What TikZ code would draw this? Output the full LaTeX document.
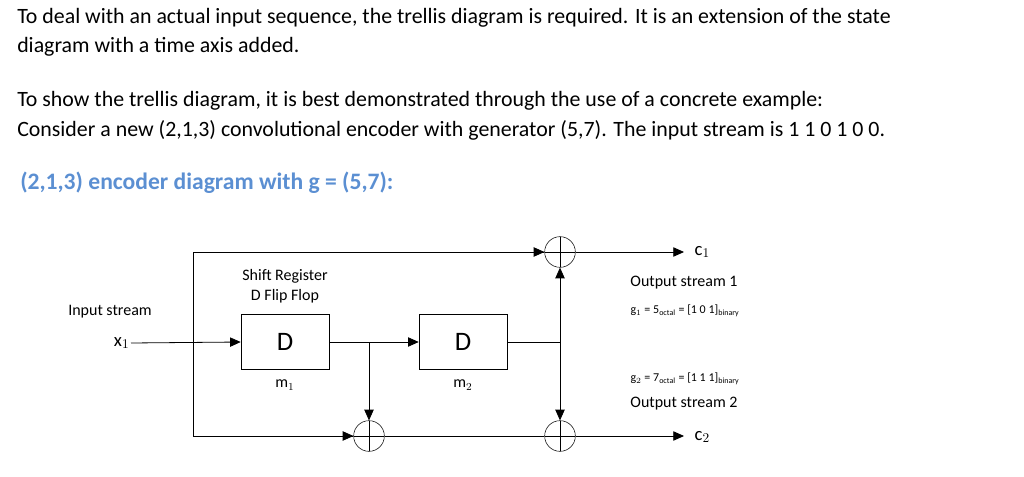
\documentclass[tikz,border=0pt]{standalone}
\usepackage{fontspec}
\setmainfont{Carlito}
\usetikzlibrary{arrows.meta}
\definecolor{hblue}{HTML}{5B8FD2}
\begin{document}
\begin{tikzpicture}[x=0.75pt,y=-0.75pt,
 txt/.style={anchor=west,inner sep=0pt,font=\fontsize{16.4}{19}\selectfont},
 lbl/.style={inner sep=1pt,font=\fontsize{12}{14}\selectfont},
 reg/.style={draw,minimum width=66pt,minimum height=41pt,font=\fontsize{20}{24}\selectfont,inner sep=0pt},
 xor/.style={draw,circle,minimum size=23pt,inner sep=0pt,path picture={\draw (path picture bounding box.north)--(path picture bounding box.south) (path picture bounding box.west)--(path picture bounding box.east);}},
 arr/.style={-{Triangle[length=8pt,width=7pt]},line width=0.6pt},
 ln/.style={line width=0.6pt}]
\useasboundingbox (0,0) rectangle (1024,477);
\node[txt] (t1) at (17,18) {To deal with an actual input sequence, the trellis diagram is required. It is an extension of the state};
\node[txt] (t2) at (17,47) {diagram with a time axis added.};
\node[txt] (t3) at (17,101) {To show the trellis diagram, it is best demonstrated through the use of a concrete example:};
\node[txt] (t4) at (17,130) {Consider a new (2,1,3) convolutional encoder with generator (5,7). The input stream is 1 1 0 1 0 0.};
\node[txt,font=\fontsize{17.7}{21}\selectfont\bfseries,text=hblue] (t5) at (20,183) {(2,1,3) encoder diagram with g = (5,7):};
\node[reg] (d1) at (285,342) {D};
\node[reg] (d2) at (463,342) {D};
\node[xor] (x1) at (560,252) {};
\node[xor] (x2) at (369,436) {};
\node[xor] (x3) at (560,436) {};
\node[lbl] (in) at (110,312) {Input stream};
\node[lbl,anchor=east,font=\fontsize{14}{16}\selectfont] (xin) at (131,343) {x$_1$};
\node[lbl,align=center] (sr) at (285,286) {Shift Register\\[1pt]D Flip Flop};
\node[lbl] (m1) at (285,385) {m$_1$};
\node[lbl] (m2) at (463,385) {m$_2$};
\node[lbl,anchor=west,font=\fontsize{14}{16}\selectfont] (c1) at (693,252) {c$_1$};
\node[lbl,anchor=west,font=\fontsize{14}{16}\selectfont] (c2) at (693,437) {c$_2$};
\node[lbl] (o1) at (684,283) {Output stream 1};
\node[lbl,font=\fontsize{9}{11}\selectfont] (g1) at (685,311) {g$_1$ = 5$_{\mathrm{octal}}$ = [1 0 1]$_{\mathrm{binary}}$};
\node[lbl,font=\fontsize{9}{11}\selectfont] (g2) at (685,379) {g$_2$ = 7$_{\mathrm{octal}}$ = [1 1 1]$_{\mathrm{binary}}$};
\node[lbl] (o2) at (684,404) {Output stream 2};
\coordinate (s) at (193,342);
\coordinate (j1) at (369,342);
\coordinate (j2) at (560,342);
\coordinate (e1) at (684,252);
\coordinate (e2) at (684,436);
\draw[arr] (xin.east) -- (d1.west);
\draw[ln] (s) |- (x1.west);
\draw[arr] (x1.west)+(-22,0) -- (x1.west);
\draw[ln] (s) |- (x2.west);
\draw[arr] (x2.west)+(-22,0) -- (x2.west);
\draw[arr] (d1.east) -- (d2.west);
\draw[arr] (j1) -- (x2.north);
\draw[ln] (d2.east) -- (j2);
\draw[arr] (j2) -- (x1.south);
\draw[arr] (j2) -- (x3.north);
\draw[ln] (x2.east) -- (x3.west);
\draw[arr] (x1.east) -- (e1);
\draw[arr] (x3.east) -- (e2);
\end{tikzpicture}
\end{document}
